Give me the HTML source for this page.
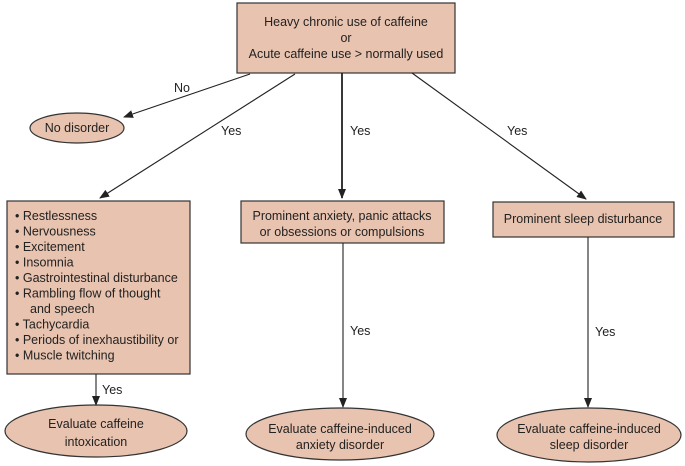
<!DOCTYPE html>
<html><head><meta charset="utf-8"><style>
html,body{margin:0;padding:0;background:#fff;}
svg{display:block;}
text{font-family:"Liberation Sans",Arial,sans-serif;font-size:12.5px;fill:#222;}
</style></head><body>
<svg width="685" height="466" viewBox="0 0 685 466" xmlns="http://www.w3.org/2000/svg">
<defs>
<marker id="a" markerWidth="10" markerHeight="8" refX="9" refY="4" orient="auto" markerUnits="userSpaceOnUse">
<path d="M0,0 L10,4 L0,8 Z" fill="#222"/>
</marker>
</defs>
<g fill="#e8c3af" stroke="#333" stroke-width="1.2">
<rect x="237" y="3" width="218" height="70"/>
<ellipse cx="77" cy="128" rx="47" ry="15"/>
<rect x="7" y="201" width="183" height="173"/>
<rect x="241" y="201" width="203" height="42"/>
<rect x="493" y="202" width="181" height="35"/>
<ellipse cx="96" cy="431" rx="91" ry="26"/>
<ellipse cx="340" cy="434" rx="94" ry="26"/>
<ellipse cx="589" cy="435" rx="92" ry="27"/>
</g>
<g stroke="#222" stroke-width="1.1" fill="none" marker-end="url(#a)">
<line x1="250" y1="74" x2="124" y2="117"/>
<line x1="295" y1="74" x2="100" y2="198"/>
<line x1="342" y1="73" x2="342" y2="198" stroke-width="1.8"/>
<line x1="412" y1="73" x2="586" y2="199"/>
<line x1="96" y1="374" x2="96" y2="405"/>
<line x1="343" y1="243" x2="343" y2="407"/>
<line x1="588" y1="237" x2="588" y2="407"/>
</g>
<g text-anchor="middle">
<text x="346" y="26">Heavy chronic use of caffeine</text>
<text x="346" y="42">or</text>
<text x="346" y="58">Acute caffeine use &gt; normally used</text>
<text x="77" y="132">No disorder</text>
<text x="342" y="220">Prominent anxiety, panic attacks</text>
<text x="342" y="236">or obsessions or compulsions</text>
<text x="583" y="223">Prominent sleep disturbance</text>
<text x="96" y="428">Evaluate caffeine</text>
<text x="96" y="446">intoxication</text>
<text x="340" y="433">Evaluate caffeine-induced</text>
<text x="340" y="449">anxiety disorder</text>
<text x="589" y="433">Evaluate caffeine-induced</text>
<text x="589" y="449">sleep disorder</text>
</g>
<text x="174" y="92">No</text>
<text x="221" y="135">Yes</text>
<text x="350" y="135">Yes</text>
<text x="507" y="135">Yes</text>
<text x="350" y="335">Yes</text>
<text x="595" y="336">Yes</text>
<text x="102" y="394">Yes</text>
<g>
<text x="15" y="220">• Restlessness</text>
<text x="15" y="235.5">• Nervousness</text>
<text x="15" y="251">• Excitement</text>
<text x="15" y="266.5">• Insomnia</text>
<text x="15" y="282">• Gastrointestinal disturbance</text>
<text x="15" y="297.5">• Rambling flow of thought</text>
<text x="30" y="313">and speech</text>
<text x="15" y="328.5">• Tachycardia</text>
<text x="15" y="344">• Periods of inexhaustibility or</text>
<text x="15" y="359.5">• Muscle twitching</text>
</g>
</svg>
</body></html>
